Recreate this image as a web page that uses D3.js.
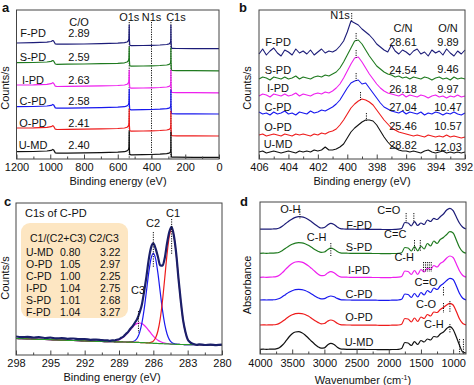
<!DOCTYPE html>
<html><head><meta charset="utf-8">
<script src="https://cdn.jsdelivr.net/npm/d3@7"></script>
<style>body{margin:0;background:#fff}svg{display:block}</style>
</head><body>
<svg id="chart" width="474" height="385"></svg>
<script>
// ---------------- DATA ----------------
const names = ["F-PD","S-PD","I-PD","C-PD","O-PD","U-MD"];
const coRatio = ["2.89","2.59","2.63","2.58","2.41","2.40"];
const cnRatio = ["28.61","24.54","26.18","27.04","25.46","28.82"];
const onRatio = ["9.89","9.46","9.97","10.47","10.57","12.03"];
const tableRows = ["U-MD","O-PD","C-PD","I-PD","S-PD","F-PD"];
const tableC1 = ["0.80","1.05","1.00","1.04","1.01","1.04"];
const tableC2C3 = ["3.22","2.97","2.25","2.75","2.68","3.27"];

// (a) survey spectra
const surveyEV = [1200,1100,1020,995,985,980,975,970,960,900,800,700,600,560,545,538,534,532,531,529,525,520,450,400,350,310,295,290,287,285.5,285,284,282,278,250,150,0];
const surveyF = [116,116.3,116.8,117.5,118.5,118,116.5,115,114.8,114.8,115,115.3,115.8,116.3,117,118,120,134,120,114,113.5,113.3,113.5,113.7,114,114.5,115.2,116,117,120,134,118,111,110.6,110.5,110.4,110.3];
const surveyS = [96.3,96.5,97,97.6,98.5,98,96.5,95,94.7,94.8,95,95.3,95.7,96.2,97,98,100,112,99,93.5,93,92.8,93,93.2,93.5,94,94.6,95.3,96.3,99,111,96,89,88.5,88.4,88.3,88.2];
const surveyI = [74,74.2,74.7,75.3,76.3,75.8,74.3,72.8,72.5,72.6,72.8,73.1,73.5,74,74.8,75.8,77.8,89,77,71.5,71,70.8,71,71.2,71.5,72,72.6,73.3,74.3,77,89,74,67,66.5,66.4,66.3,66.2];
const surveyC = [52.3,52.5,53,53.6,54.6,54.1,52.6,51.1,50.8,50.9,51.1,51.4,51.8,52.3,53.1,54.1,56,70,55,49.8,49.3,49.1,49.3,49.5,49.8,50.3,50.9,51.6,52.6,55.5,69,52.5,45.8,45.3,45.2,45.1,45];
const surveyO = [31,31.2,31.7,32.3,33.3,32.8,31.3,29.8,29.5,29.6,29.8,30.1,30.5,31,31.8,32.8,34.8,50,34,28.5,28,27.8,28,28.2,28.5,29,29.6,30.3,31.3,34,48,31,23.8,23.3,23.2,23.1,23];
const surveyU = [7.3,7.5,8,8.6,9.6,9.1,7.6,6.1,5.8,5.9,6.1,6.4,6.8,7.3,8.1,9.1,11,28,10,4.8,4.3,4.1,4.3,4.5,4.8,5.3,5.9,6.6,7.6,10.5,27,7.5,2.2,1.9,1.8,1.7,1.6];
const coreLevels = [{name:"O1s",ev:532},{name:"N1s",ev:400},{name:"C1s",ev:285}];

// (b) N1s spectra, 406 -> 392 eV every 0.25 eV
const n1sEV = d3.range(406, 391.99, -0.25);
const n1sF = [105,110,104,108,111,106,103,109,107,104,110,106,108,105,109,104,107,110,106,108,107,
  109,113,118,127,138,136,134,130,127,124,120,115,112,109,107,114,
  108,105,109,107,104,108,110,105,107,103,109,106,108,104,110,106,103,108,105,109];
const n1sS = [80,82,81,79,82,81,80,82,80,81,83,80,82,81,80,82,83,82,84,83,85,
  87,91,97,104,111,118,119,115,109,103,98,93,90,87,85,84,
  82,83,81,82,80,82,81,80,82,81,79,81,82,80,81,79,82,80,81,80];
const n1sI = [63,65,64,62,65,64,63,65,63,64,66,63,65,64,63,65,66,65,67,66,68,
  71,75,81,88,95,101,102,97,91,85,80,75,71,68,66,65,
  64,63,65,62,64,63,62,64,63,61,63,64,62,63,61,63,62,64,62,63];
const n1sC = [47,45,46,44,47,45,46,48,45,46,44,47,46,45,48,46,47,49,48,50,52,
  55,59,65,71,76,78,79,75,76,71,66,61,56,52,50,48,
  47,46,48,45,47,46,45,47,44,46,45,47,46,44,46,45,47,45,44,46];
const n1sO = [24,25,23,24,25,24,23,25,24,23,25,24,25,24,23,25,24,26,25,27,28,
  30,34,39,45,51,55,58,60,59,57,54,49,44,39,35,31,
  29,27,26,25,24,23,24,23,22,24,23,22,23,22,24,22,23,22,21,22];
const n1sU = [7,8,6,7,8,7,6,7,8,7,6,8,7,8,7,9,8,9,12,9,9,
  10,12,15,21,27,31,34,37,39,39,38,34,28,22,17,13,
  11,9,8,8,7,8,7,6,8,9,7,6,7,8,6,7,6,7,6,7];
const n1sPeakEV = [399.7,399.4,399.4,399.4,399.1,398.7];
const n1sPeakVal = [139,119,102,79,60,39];

// (c) C1s of C-PD
const c1sEV = [298,297.5,297,296.5,296,295.5,295,294.5,294,293.5,293,292.5,292,291.5,291,290.5,290,
  289.8,289.6,289.4,289.2,289,288.8,288.6,288.4,288.2,288,
  287.8,287.6,287.4,287.2,287,286.8,286.6,286.4,286.2,286,
  285.8,285.6,285.4,285.2,285,284.8,284.6,284.4,284.2,284,
  283.8,283.6,283.4,283.2,283,282.8,282.6,282.4,282.2,282,
  281.5,281,280.5,280];
const c1sData = [18.5,17.8,18.2,17.5,17.9,17.0,17.4,16.6,16.9,16.2,16.5,15.8,16.0,15.2,15.4,14.8,14.6,
  14.2,14.6,14.5,15.3,15.8,17.2,18.5,21.0,23.1,26.3,
  28.9,32.5,36.2,42.5,50.6,63.8,78.7,95.6,107.4,111.6,
  106.4,98.2,89.5,89.3,97.0,111.8,123.2,128.1,119.0,101.3,
  76.2,53.9,34.8,23.3,15.6,12.9,11.4,10.8,10.1,10.6,
  10.0,10.4,9.9,10.3];
const c1sBackground = [16.5,16.3,16.1,15.9,15.7,15.5,15.3,15.1,14.9,14.7,14.5,14.3,14.1,13.9,13.7,13.5,13.4,
  13.3,13.3,13.2,13.2,13.1,13.1,13.0,13.0,12.9,12.9,
  12.8,12.7,12.6,12.5,12.4,12.3,12.2,12.0,11.9,11.7,
  11.6,11.5,11.4,11.3,11.2,11.1,11.0,10.9,10.8,10.7,
  10.6,10.5,10.5,10.4,10.4,10.4,10.3,10.3,10.3,10.3,
  10.3,10.2,10.2,10.2];
const c1sPeakC1 = [0,0,0,0,0,0,0,0,0,0,0,0,0,0,0,0,0,
  0,0,0,0,0,0,0,0,0,0,
  0,0,0,0,0,0,0,0.2,0.8,2.2,
  5.6,12.5,24.7,42.9,66.1,89.9,108.1,115,108.1,89.9,
  66.1,42.9,24.7,12.5,5.6,2.2,0.8,0.2,0,0,
  0,0,0,0];
const c1sPeakC2 = [0,0,0,0,0,0,0,0,0,0,0,0,0,0,0,0,0,
  0,0,0,0,0,0,0,0,0,0.2,
  0.6,1.7,4.4,9.9,19.4,33.5,51.7,70.4,84.6,90,
  84.6,70.4,51.7,33.5,19.4,9.9,4.4,1.7,0.6,0.2,
  0,0,0,0,0,0,0,0,0,0,
  0,0,0,0];
const c1sPeakC3 = [0,0,0,0,0,0,0,0,0,0,0,0,0,0,0,0,0,
  0.2,0.4,0.7,1.2,2.1,3.3,5.0,7.2,9.8,12.5,
  15.2,17.5,19.0,19.5,19.0,17.5,15.2,12.5,9.8,7.2,
  5.0,3.3,2.1,1.2,0.7,0.4,0.2,0,0,0,
  0,0,0,0,0,0,0,0,0,0,
  0,0,0,0];
const c1sMarkers = [{name:"C1",ev:284.4,top:136,bot:100},{name:"C2",ev:286.0,top:123,bot:87},{name:"C3",ev:287.3,top:44,bot:22}];

// (d) FTIR, 4000 -> 800 cm-1 every 50
const ftirWN = d3.range(4000, 799, -50);
const ftirF = [124.8,124.9,124.8,124.9,125.0,125.2,126.0,128.0,130.5,133.0,
  135.0,136.6,137.3,137.2,136.3,134.6,132.3,129.8,127.5,126.0,
  126.5,129.0,130.7,129.5,127.0,125.3,125.0,124.9,124.8,124.8,
  124.7,124.7,124.8,124.7,124.7,124.6,124.6,124.6,124.5,124.5,
  124.5,124.5,124.6,124.8,125.5,131.5,131.0,128.0,132.3,128.5,
  131.0,129.5,134.0,132.5,135.7,134.5,137.3,140.0,144.0,145.7,
  143.3,137.0,130.7,126.7,125.0];
const ftirS = [100.7,100.8,100.7,100.8,100.9,101.1,101.8,103.5,105.8,108.0,
  109.7,110.9,111.3,111.1,110.2,108.7,106.7,104.6,102.8,101.6,
  102.0,104.3,105.8,104.8,102.6,101.2,100.9,100.8,100.7,100.7,
  100.6,100.6,100.7,100.6,100.6,100.5,100.5,100.5,100.4,100.4,
  100.4,100.5,100.5,100.7,101.3,106.5,106.0,103.0,107.5,103.2,
  108.0,105.0,110.5,108.0,113.0,110.5,114.5,116.5,119.5,122.3,
  121.0,114.0,106.5,102.2,100.8];
const ftirI = [76.7,76.8,76.7,76.8,77.0,77.4,78.8,81.5,84.8,88.0,
  90.5,92.0,92.3,91.8,90.4,88.3,85.6,82.7,80.0,78.3,
  78.5,81.0,82.3,81.2,78.8,77.2,76.9,76.8,76.7,76.7,
  76.6,76.6,76.7,76.6,76.6,76.5,76.5,76.5,76.4,76.4,
  76.4,76.5,76.6,76.8,77.5,83.0,82.5,79.5,83.5,79.5,
  84.5,82.0,86.0,84.5,88.5,87.0,90.5,92.5,96.0,98.0,
  96.5,90.0,83.0,78.5,76.9];
const ftirC = [54.0,54.1,54.0,54.1,54.2,54.5,55.5,57.4,59.6,61.7,
  63.3,64.4,64.7,64.4,63.5,62.0,60.1,58.1,56.3,55.1,
  55.4,57.0,58.0,57.2,55.6,54.4,54.1,54.0,54.0,53.9,
  53.9,53.9,53.9,53.8,53.8,53.8,53.8,53.7,53.7,53.7,
  53.7,53.8,53.8,54.0,54.7,60.0,59.5,56.5,60.5,57.0,
  61.5,59.0,63.5,61.5,66.0,64.5,68.0,70.5,73.5,75.7,
  74.5,68.0,60.5,55.8,54.2];
const ftirO = [29.0,29.1,29.0,29.1,29.2,29.5,30.6,32.7,35.1,37.4,
  39.2,40.4,40.7,40.4,39.5,37.9,35.8,33.6,31.6,30.2,
  30.5,32.8,34.0,33.0,30.8,29.4,29.1,29.0,29.0,28.9,
  28.9,28.9,28.9,28.8,28.8,28.8,28.8,28.7,28.7,28.7,
  28.7,28.8,28.8,29.0,29.8,35.5,35.0,32.0,36.0,32.5,
  37.0,35.5,39.5,38.0,42.0,41.5,44.5,46.5,49.0,50.7,
  49.0,42.5,35.0,30.5,29.2];
const ftirU = [4.7,4.8,4.7,4.8,4.9,5.2,6.3,9.0,12.8,17.0,
  20.3,22.0,22.3,21.2,19.0,16.0,12.8,9.8,7.3,5.8,
  6.2,9.0,10.7,9.6,6.8,5.1,4.8,4.7,4.7,4.6,
  4.6,4.6,4.6,4.5,4.5,4.5,4.5,4.4,4.4,4.4,
  4.4,4.5,4.5,4.7,5.5,11.5,11.0,8.5,12.3,9.5,
  13.5,12.0,15.0,14.0,17.5,17.0,20.0,22.0,25.5,27.3,
  24.5,17.0,8.5,2.0,1.0];
const ftirLabels = [
  {text:"O-H", wn:3530, val:141},
  {text:"C=O", wn:2000, val:140},
  {text:"C-H", wn:3120, val:113},
  {text:"C=C", wn:1900, val:116},
  {text:"C-H", wn:1760, val:93},
  {text:"C=O", wn:1420, val:68},
  {text:"C-O", wn:1420, val:46},
  {text:"C-H", wn:1300, val:26}];
const ftirMarkers = [
  {wn:3380,top:145,bot:135},{wn:1730,top:141,bot:131},{wn:1610,top:141,bot:131},
  {wn:2900,top:111,bot:98},{wn:1600,top:114,bot:102},{wn:1510,top:114,bot:102},
  {wn:1460,top:92,bot:82},{wn:1430,top:92,bot:82},{wn:1400,top:92,bot:82},{wn:1370,top:92,bot:82},{wn:1340,top:92,bot:82},
  {wn:1150,top:67,bot:58},{wn:1150,top:51,bot:41},{wn:1050,top:53,bot:41},
  {wn:1050,top:30,bot:21},{wn:900,top:15,bot:0},{wn:840,top:15,bot:0}];

// ---------------- DRAWING ----------------
const FONT = "Arial, 'Liberation Sans', Helvetica, sans-serif";
const colors = ["#1c1c78","#1f7a1f","#ee1fee","#1818ee","#ee1b1b","#111111"];
const svg = d3.select("#chart");

function txt(x, y, s, o = {}) {
  return svg.append("text").attr("x", x).attr("y", y).text(s)
    .attr("font-family", FONT).attr("font-size", o.size || 11)
    .attr("font-weight", o.bold ? "bold" : "normal")
    .attr("text-anchor", o.anchor || "middle").attr("fill", o.fill || "#111")
    .attr("transform", o.rot ? `rotate(-90,${x},${y})` : null);
}
function frame(x, y) {
  const [x0, x1] = x.range(), [y0, y1] = y.range();
  svg.append("rect").attr("x", x0).attr("y", y1).attr("width", x1 - x0).attr("height", y0 - y1)
    .attr("fill", "none").attr("stroke", "#444").attr("stroke-width", 1);
}
function xAxis(x, yb, major, minor, pad) {
  const gm = svg.append("g").attr("transform", `translate(0,${yb})`)
    .call(d3.axisBottom(x).tickValues(minor).tickSize(-2.5).tickFormat(""));
  gm.select(".domain").remove();
  gm.selectAll("line").attr("stroke", "#444");
  const g = svg.append("g").attr("transform", `translate(0,${yb})`)
    .call(d3.axisBottom(x).tickValues(major).tickSize(-4.5).tickPadding(pad).tickFormat(d3.format("d")));
  g.select(".domain").remove();
  g.selectAll("line").attr("stroke", "#444");
  g.attr("font-family", FONT).attr("font-size", 11);
  g.selectAll("text").attr("fill", "#111");
  return g;
}
function dotted(x1, y1, x2, y2) {
  svg.append("line").attr("x1", x1).attr("y1", y1).attr("x2", x2).attr("y2", y2)
    .attr("stroke", "#111").attr("stroke-width", 1).attr("stroke-dasharray", "1.2,1.2");
}
function drawLine(xs, ys, x, y, color, w, curve) {
  const line = d3.line().x(d => x(d[0])).y(d => y(d[1])).curve(curve || d3.curveLinear);
  svg.append("path").datum(xs.map((v, i) => [v, ys[i]]))
    .attr("d", line).attr("fill", "none").attr("stroke", color)
    .attr("stroke-width", w).attr("stroke-linejoin", "round");
}

// ---- panel a ----
{
  const x = d3.scaleLinear().domain([1200, 0]).range([16.5, 219]);
  const y = d3.scaleLinear().domain([0, 149]).range([159, 10]);
  const series = [surveyF, surveyS, surveyI, surveyC, surveyO, surveyU];
  coreLevels.forEach(c => dotted(x(c.ev), 22, x(c.ev), 159));
  series.forEach((s, i) => drawLine(surveyEV, s, x, y, colors[i], 1.2));
  frame(x, y);
  xAxis(x, 159, [1200,1000,800,600,400,200,0], [1100,900,700,500,300,100], 4);
  coreLevels.forEach((c, i) => txt(x(c.ev) + (i === 2 ? 5 : 0), 20.5, c.name));
  txt(79, 26, "C/O");
  const rowY = [37, 61, 84, 105, 127, 149];
  names.forEach((n, i) => { txt(33, rowY[i], n); txt(79, rowY[i], coRatio[i]); });
  txt(118, 185, "Binding energy (eV)");
  txt(9, 88, "Counts/s", {rot: true});
  txt(2, 11.5, "a", {bold: true, size: 13, anchor: "start"});
}

// ---- panel b ----
{
  const x = d3.scaleLinear().domain([406, 392]).range([259, 465]);
  const y = d3.scaleLinear().domain([0, 149]).range([159, 10]);
  const series = [n1sF, n1sS, n1sI, n1sC, n1sO, n1sU];
  series.forEach((s, i) => drawLine(n1sEV, s, x, y, colors[i], 1.1));
  n1sPeakEV.forEach((e, i) => dotted(x(e), y(n1sPeakVal[i] + 7), x(e), y(n1sPeakVal[i] - 1)));
  frame(x, y);
  const g = xAxis(x, 159, [406,404,402,400,398,396,394,392], [405,403,401,399,397,395,393], 4);
  g.selectAll("text").filter(d => d === 392).attr("dx", -1.5);
  txt(340, 19, "N1s");
  txt(403, 31.5, "C/N"); txt(448, 31.5, "O/N");
  const labY = [46, 74, 91.5, 111, 131, 148];
  const cnY = [46, 74, 92.5, 111, 130, 149];
  const onY = [46, 72.5, 92.5, 111, 130, 151];
  names.forEach((n, i) => { txt(278, labY[i], n); txt(403, cnY[i], cnRatio[i]); txt(448, onY[i], onRatio[i]); });
  txt(362, 185, "Binding energy (eV)");
  txt(251, 88, "Counts/s", {rot: true});
  txt(239, 11.5, "b", {bold: true, size: 13, anchor: "start"});
}

// ---- panel c ----
{
  const x = d3.scaleLinear().domain([298, 280]).range([16, 222]);
  const y = d3.scaleLinear().domain([0, 152]).range([355, 203]);
  svg.append("rect").attr("x", 21).attr("y", 223).attr("width", 107).attr("height", 95)
    .attr("rx", 9).attr("fill", "#fde6c2");
  const comp = (arr) => arr.map((v, i) => v + c1sBackground[i]);
  drawLine(c1sEV, comp(c1sPeakC3), x, y, "#ee22ee", 1.2, d3.curveMonotoneX);
  drawLine(c1sEV, comp(c1sPeakC2), x, y, "#1a1aee", 1.2, d3.curveMonotoneX);
  drawLine(c1sEV, comp(c1sPeakC1), x, y, "#ee1b1b", 1.2, d3.curveMonotoneX);
  drawLine(c1sEV, c1sBackground, x, y, "#2a9a2a", 1.2, d3.curveMonotoneX);
  drawLine(c1sEV, c1sData, x, y, "#1a1f6a", 2.2, d3.curveMonotoneX);
  c1sMarkers.forEach(m => dotted(x(m.ev), y(m.top), x(m.ev), y(m.bot)));
  frame(x, y);
  xAxis(x, 355, [298,295,292,289,286,283,280], [296.5,293.5,290.5,287.5,284.5,281.5], 4.5);
  txt(25, 217, "C1s of C-PD", {anchor: "start"});
  txt(173, 217, "C1"); txt(153, 227, "C2"); txt(138, 294, "C3");
  txt(30, 241.7, "C1/(C2+C3)", {anchor: "start", size: 10.5});
  txt(89, 241.7, "C2/C3", {anchor: "start", size: 10.5});
  const ty = [255.7, 267.5, 279.7, 291.8, 304, 316.2];
  tableRows.forEach((n, i) => {
    txt(26, ty[i], n, {anchor: "start", size: 10.5});
    txt(60, ty[i], tableC1[i], {anchor: "start", size: 10.5});
    txt(100, ty[i], tableC2C3[i], {anchor: "start", size: 10.5});
  });
  txt(112, 381, "Binding energy (eV)");
  txt(9, 278, "Counts/s", {rot: true});
  txt(4, 206, "c", {bold: true, size: 13, anchor: "start"});
}

// ---- panel d ----
{
  const x = d3.scaleLinear().domain([4000, 800]).range([260, 466]);
  const y = d3.scaleLinear().domain([0, 152]).range([354, 202]);
  const series = [ftirF, ftirS, ftirI, ftirC, ftirO, ftirU];
  series.forEach((s, i) => drawLine(ftirWN, s, x, y, colors[i], 1.2, d3.curveMonotoneX));
  ftirMarkers.forEach(m => dotted(x(m.wn), y(m.top), x(m.wn), y(m.bot)));
  frame(x, y);
  xAxis(x, 354, [4000,3500,3000,2500,2000,1500,1000], [3750,3250,2750,2250,1750,1250,850], 5);
  const labY = [229, 251, 274, 298, 321, 346];
  names.forEach((n, i) => txt(359, labY[i], n));
  ftirLabels.forEach(l => txt(x(l.wn), y(l.val), l.text));
  svg.append("text").attr("x", 363).attr("y", 384).attr("text-anchor", "middle")
    .attr("font-family", FONT).attr("font-size", 11).attr("fill", "#111")
    .call(t => { t.append("tspan").text("Wavenumber (cm");
                 t.append("tspan").text("-1").attr("font-size", 7).attr("dy", -4);
                 t.append("tspan").text(")").attr("dy", 4); });
  txt(251, 285, "Absorbance", {rot: true});
  txt(240, 206, "d", {bold: true, size: 13, anchor: "start"});
}
</script>
</body></html>
